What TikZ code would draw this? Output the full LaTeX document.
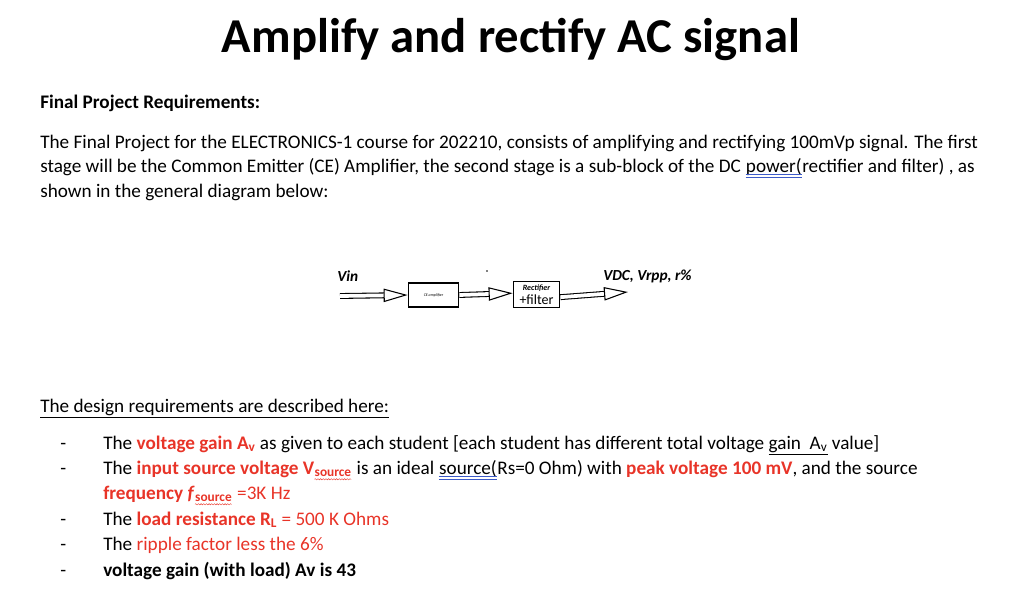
\documentclass[tikz,border=0pt]{standalone}
\usepackage{fontspec}
\setmainfont{Carlito}
\usetikzlibrary{arrows.meta,decorations.pathmorphing}
\definecolor{rd}{RGB}{232,52,40}
\definecolor{ul}{RGB}{60,90,200}
\tikzset{
 txt/.style={anchor=base west,inner sep=0,font=\fontsize{14.4}{16}\selectfont},
 blk/.style={draw,thick,inner sep=0},
 harrow/.style={double,double distance=2.8pt,thick,-{Triangle[open,length=18pt,width=10pt]}}
}
\newcommand{\rr}[1]{\textcolor{rd}{#1}}
\newcommand{\bu}[1]{\textcolor{rd}{\textbf{#1}}}
\newcommand{\bul}[1]{\tikz[baseline=(w.base)]{\node[inner sep=0,font=\fontsize{14.4}{16}\selectfont](w){#1};\draw[ul,line width=0.5pt] ([yshift=-2pt]w.base west)--([yshift=-2pt]w.base east) ([yshift=-3.8pt]w.base west)--([yshift=-3.8pt]w.base east);}}
\newcommand{\sq}[1]{\tikz[baseline=(w.base)]{\node[inner sep=0](w){#1};\draw[rd,line width=0.3pt,decorate,decoration={snake,amplitude=0.5pt,segment length=2pt}] ([yshift=-1.8pt]w.base west)--([yshift=-1.8pt]w.base east);}}
\begin{document}
\begin{tikzpicture}[x=0.75pt,y=-0.75pt]
\useasboundingbox (0,0) rectangle (1024,594);
\node[anchor=center,font=\fontsize{36.5}{40}\selectfont\bfseries] (title) at (511,40) {Amplify and rectify AC signal};
\node[txt,font=\fontsize{14.4}{16}\selectfont\bfseries] (h1) at (40,108) {Final Project Requirements:};
\node[txt] (p1) at (40,148) {The Final Project for the ELECTRONICS-1 course for 202210, consists of amplifying and rectifying 100mVp signal. The first};
\node[txt] (p2) at (40,172) {stage will be the Common Emitter (CE) Amplifier, the second stage is a sub-block of the DC \bul{power(}rectifier and filter) , as};
\node[txt] (p3) at (40,197) {shown in the general diagram below:};

% diagram
\node[anchor=base west,inner sep=0,font=\bfseries\itshape\fontsize{11.5}{12}\selectfont] (vin) at (337,281) {Vin};
\node[anchor=base west,inner sep=0,font=\bfseries\itshape\fontsize{11.5}{12}\selectfont] (vdc) at (603,280) {VDC, Vrpp, r\%};
\coordinate (in) at (340,296);
\node[blk,minimum width=38pt,minimum height=18pt] (b1) at (433.5,295) {\fontsize{3}{3}\selectfont\itshape CE amplifier};
\node[blk,minimum width=35pt,minimum height=20pt,align=center] (b2) at (536.5,294.5) {\fontsize{6}{6}\selectfont\bfseries\itshape Rectifier\\[-1.5pt]\fontsize{10.5}{10}\selectfont +filter};
\coordinate (out) at (628,292);
\fill (487,271) circle (0.8);
\draw[harrow] (in) -- (b1.west);
\draw[harrow] (b1.east) -- ([yshift=1pt]b2.west);
\draw[harrow] ([yshift=-2pt]b2.east) -- (out);

\node[txt] (h2) at (40,412) {\underline{The design requirements are described here:}};
\foreach \y/\n in {449/d1,474/d2,525/d3,550/d4,576/d5}{\node[txt] (\n) at (60,\y) {-};}
\node[txt] (l1) at (103,449) {The \bu{voltage gain A\textsubscript{v}} as given to each student [each student has different total voltage \underline{gain\ \ A\textsubscript{v}} value]};
\node[txt] (l2) at (103,474) {The \bu{input source voltage V\textsubscript{\sq{source}}} is an ideal \bul{source(}Rs=0 Ohm) with \bu{peak voltage 100 mV}, and the source};
\node[txt] (l2b) at (103,499) {\bu{frequency \textit{f}\textsubscript{\sq{source}}} \rr{=3K Hz}};
\node[txt] (l3) at (103,525) {The \bu{load resistance R\textsubscript{L}} \rr{= 500 K Ohms}};
\node[txt] (l4) at (103,550) {The \rr{ripple factor less the 6\%}};
\node[txt,font=\fontsize{14.4}{16}\selectfont\bfseries] (l5) at (103,576) {voltage gain (with load) Av is 43};
\end{tikzpicture}
\end{document}
